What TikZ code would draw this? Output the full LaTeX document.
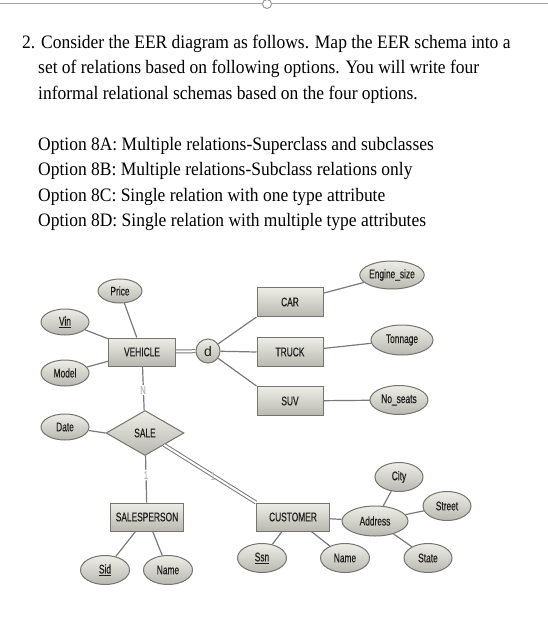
\documentclass[tikz,border=0pt]{standalone}
\usepackage{fontspec}
\setmainfont{Liberation Serif}
\newfontfamily\titlefont[FakeStretch=0.92]{Liberation Serif}
\newfontfamily\lblfont[FakeStretch=0.67,FakeBold=0.4]{Liberation Sans}
\newfontfamily\dfont{Liberation Sans}
\usetikzlibrary{shapes.geometric}
\definecolor{edgec}{HTML}{747470}
\definecolor{linec}{HTML}{7A7A7A}
\definecolor{boxtop}{HTML}{EEEEE8}
\definecolor{boxbot}{HTML}{B8B8B0}
\definecolor{txtc}{HTML}{1E1E1E}
\definecolor{faint}{HTML}{B8B8B8}
\tikzset{
  title/.style={anchor=base west, inner sep=0pt, font=\titlefont\fontsize{19}{21}\selectfont, text=black},
  ent/.style={rectangle, draw=edgec, line width=1pt, top color=boxtop, bottom color=boxbot,
    minimum width=67pt, minimum height=28pt, inner sep=1pt, text=txtc, font=\lblfont\fontsize{12.5}{13}\selectfont},
  attr/.style={ellipse, draw=edgec, line width=1pt, top color=boxtop, bottom color=boxbot,
    minimum width=48pt, minimum height=27pt, inner sep=0pt, text=txtc, font=\lblfont\fontsize{12.5}{13}\selectfont},
  rel/.style={diamond, draw=edgec, line width=1pt, top color=boxtop, bottom color=boxbot,
    minimum width=78pt, minimum height=45pt, inner sep=0pt, text=txtc, font=\lblfont\fontsize{12.5}{13}\selectfont},
  conn/.style={draw=linec, line width=1.2pt},
  dconn/.style={draw=linec, line width=1pt, double=white, double distance=2pt},
  card/.style={text=faint, font=\lblfont\fontsize{11}{12}\selectfont, inner sep=0pt},
}
\begin{document}
\begin{tikzpicture}[x=1pt,y=-1pt]
\useasboundingbox (0,0) rectangle (548,635);
\fill[white] (0,0) rectangle (548,635);
% top ruler
\coordinate (rl) at (0,3);
\coordinate (rr) at (548,3);
\draw[gray!70, line width=1pt] (rl) -- (rr);
\node[circle, draw=gray!80, fill=white, line width=1pt, minimum size=9pt, inner sep=0pt] (handle) at (267,4) {};
% text
\node[title] (l1) at (22,48) {2. Consider the EER diagram as follows. Map the EER schema into a};
\node[title] (l2) at (38,73) {set of relations based on following options. You will write four};
\node[title] (l3) at (38,99) {informal relational schemas based on the four options.};
\node[title] (o1) at (38,150) {Option 8A: Multiple relations-Superclass and subclasses};
\node[title] (o2) at (38,175) {Option 8B: Multiple relations-Subclass relations only};
\node[title] (o3) at (38,201) {Option 8C: Single relation with one type attribute};
\node[title] (o4) at (38,226) {Option 8D: Single relation with multiple type attributes};
% entities
\node[ent] (vehicle) at (142,352) {VEHICLE};
\node[ent, minimum width=66pt, minimum height=29pt] (car) at (290,302) {CAR};
\node[ent, minimum width=66pt, minimum height=29pt] (truck) at (290,352) {TRUCK};
\node[ent, minimum width=66pt, minimum height=29pt] (suv) at (290,401) {SUV};
\node[ent, minimum width=73pt] (salesp) at (147,517) {SALESPERSON};
\node[ent, minimum width=73pt] (cust) at (293,517) {CUSTOMER};
% relationship
\node[rel] (sale) at (145,433) {SALE};
% specialization circle
\node[circle, draw=edgec, line width=1pt, top color=boxtop, bottom color=boxbot, minimum size=24pt, inner sep=0pt, text=txtc, font=\dfont\fontsize{14}{14}\selectfont] (d) at (208,351) {d};
% attributes
\node[attr, minimum width=44pt, minimum height=24pt] (price) at (120,291) {Price};
\node[attr, minimum height=26pt] (vin) at (65,322) {\underline{Vin}};
\node[attr, minimum height=26pt] (model) at (65,373) {Model};
\node[attr, minimum height=26pt] (date) at (65,427) {Date};
\node[attr, minimum width=62pt, minimum height=28pt] (eng) at (392,275) {Engine\_size};
\node[attr, minimum width=62pt, minimum height=30pt] (ton) at (402,340) {Tonnage};
\node[attr, minimum width=58pt, minimum height=29pt] (seats) at (399,400) {No\_seats};
\node[attr, minimum width=49pt, minimum height=29pt] (sid) at (105,570) {\underline{Sid}};
\node[attr, minimum width=49pt, minimum height=29pt] (sname) at (168,570) {Name};
\node[attr, minimum width=49pt, minimum height=29pt] (ssn) at (262,558) {\underline{Ssn}};
\node[attr, minimum width=49pt, minimum height=29pt] (cname) at (345,558) {Name};
\node[attr, minimum width=66pt, minimum height=30pt] (addr) at (375,521) {Address};
\node[attr, minimum width=48pt, minimum height=29pt] (city) at (399,477) {City};
\node[attr, minimum width=48pt, minimum height=29pt] (street) at (447,506) {Street};
\node[attr, minimum width=48pt, minimum height=29pt] (state) at (428,558) {State};
% connectors
\draw[conn] (price) -- (vehicle);
\draw[conn] (vin) -- (vehicle);
\draw[conn] (model) -- (vehicle);
\draw[dconn] (vehicle) -- (d);
\draw[conn] (d) -- (car.south west);
\draw[conn] (d) -- (truck.west);
\draw[conn] (d) -- (suv.north west);
\draw[conn] (car) -- (eng);
\draw[conn] (truck) -- (ton);
\draw[conn] (suv) -- (seats);
\draw[conn] (vehicle) -- (sale);
\draw[conn] (date) -- (sale.west);
\draw[conn] (sale) -- (salesp);
\draw[dconn] (sale) -- (cust.north west);
\draw[conn] (salesp) -- (sid);
\draw[conn] (salesp) -- (sname);
\draw[conn] (cust) -- (ssn);
\draw[conn] (cust) -- (cname);
\draw[conn] (cust) -- (addr);
\draw[conn] (addr) -- (city);
\draw[conn] (addr) -- (street);
\draw[conn] (addr) -- (state);
% cardinalities
\node[card, fill=white, inner sep=1pt] (cN) at (143,390) {N};
\node[card, fill=white, inner sep=1pt] (c1a) at (146,475) {1};
\node[card] (c1b) at (213,476) {1};
\end{tikzpicture}
\end{document}
